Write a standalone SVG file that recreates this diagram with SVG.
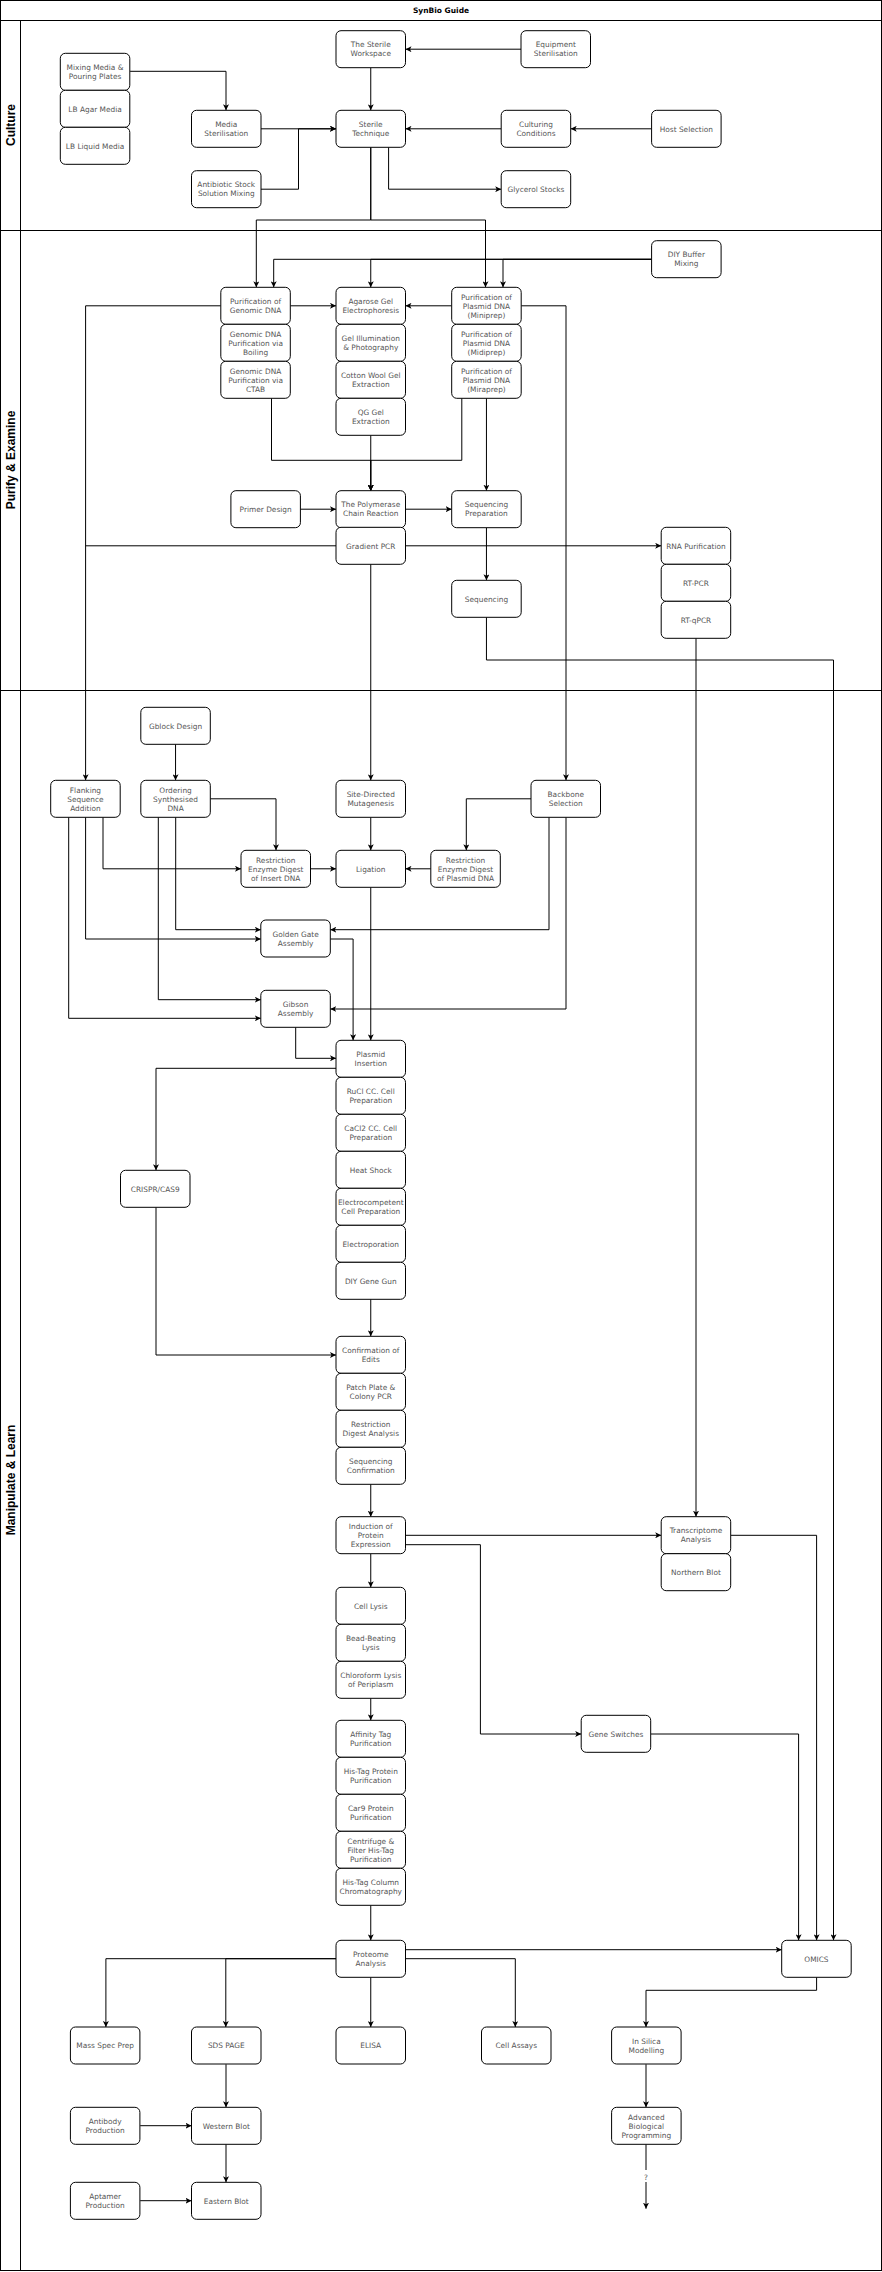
<svg xmlns="http://www.w3.org/2000/svg" width="882" height="2272" viewBox="0 0 882 2272">
<style>
.n rect{fill:#fff;stroke:#000;stroke-width:1}
.n text{font-family:"DejaVu Sans",Verdana,sans-serif;font-size:7.4px;fill:#555;text-anchor:middle}
.c path{fill:none;stroke:#000;stroke-width:1;marker-end:url(#arr)}
.lane{font-family:"Liberation Sans",Arial,sans-serif;font-size:12px;font-weight:bold;fill:#000;text-anchor:middle}
.frame{fill:none;stroke:#000;stroke-width:1}
.lbl{font-family:"DejaVu Sans",Verdana,sans-serif;font-size:7.4px;fill:#555;text-anchor:middle}
</style>
<defs>
<marker id="arr" markerUnits="userSpaceOnUse" markerWidth="7" markerHeight="6" refX="6" refY="3" orient="auto"><path d="M0,0 L6,3 L0,6 L1.5,3 Z" fill="#000"/></marker>
</defs>
<rect x="0" y="0" width="882" height="2272" fill="#fff"/>
<g id="pool">
<rect class="frame" x="0.5" y="0.5" width="881" height="2270"/>
<line class="frame" x1="0" y1="20.5" x2="882" y2="20.5"/>
<line class="frame" x1="20.5" y1="20.5" x2="20.5" y2="2271"/>
<line class="frame" x1="0" y1="230.5" x2="882" y2="230.5"/>
<line class="frame" x1="0" y1="690.5" x2="882" y2="690.5"/>
<text x="441" y="13" style="font-family:'DejaVu Sans',sans-serif;font-size:7.5px;font-weight:bold;text-anchor:middle">SynBio Guide</text>
<text class="lane" transform="translate(15,125) rotate(-90)">Culture</text>
<text class="lane" transform="translate(15,460) rotate(-90)">Purify &amp; Examine</text>
<text class="lane" transform="translate(15,1480) rotate(-90)">Manipulate &amp; Learn</text>
</g>
<g id="connectors" class="c">
<path d="M521,49.2 H405.5"/>
<path d="M370.75,67.7 V110.3"/>
<path d="M130.1,71.3 H226 V110.3"/>
<path d="M261,128.8 H336"/>
<path d="M261,189.2 H298.5 V128.8 H336"/>
<path d="M501.2,128.8 H405.5"/>
<path d="M651.6,128.8 H570.7"/>
<path d="M388.6,147.3 V189.2 H501.2"/>
<path d="M370.75,147.3 V220 H256.3 V287.3"/>
<path d="M370.75,147.3 V220 H485.5 V287.3"/>
<path d="M651.6,259.3 H273.7 V287.3"/>
<path d="M651.6,259.3 H370.75 V287.3"/>
<path d="M651.6,259.3 H503 V287.3"/>
<path d="M290.3,305.8 H336"/>
<path d="M451.7,305.8 H405.5"/>
<path d="M220.8,305.8 H85.6 V780.3"/>
<path d="M521.2,305.8 H566 V780.3"/>
<path d="M271.5,398.3 V460.3 H370.75 V490.7"/>
<path d="M461.8,398.3 V460.3 H370.75 V490.7"/>
<path d="M370.75,435.3 V490.7"/>
<path d="M486.45,398.3 V490.7"/>
<path d="M300.4,509.2 H336"/>
<path d="M405.5,509.2 H451.7"/>
<path d="M486.45,527.7 V580.3"/>
<path d="M85.6,545.8 H661.2"/>
<path d="M370.75,564.3 V780.3"/>
<path d="M486.45,617.3 V660 H833.5 V1940.3"/>
<path d="M696,638.3 V1516.7"/>
<path d="M175.55,744.3 V780.3"/>
<path d="M210.3,798.8 H276 V850.3"/>
<path d="M531,798.8 H466.3 V850.3"/>
<path d="M370.75,817.3 V850.3"/>
<path d="M310.5,868.8 H336"/>
<path d="M430.8,868.8 H405.5"/>
<path d="M103,817.3 V868.8 H241"/>
<path d="M175.7,817.3 V929.7 H260.8"/>
<path d="M549,817.3 V929.7 H330.3"/>
<path d="M85.6,817.3 V939 H260.8"/>
<path d="M68.7,817.3 V1018.3 H260.8"/>
<path d="M158.3,817.3 V999.7 H260.8"/>
<path d="M566,817.3 V1009 H330.3"/>
<path d="M370.75,887.3 V1040.3"/>
<path d="M330.3,939 H353.1 V1040.3"/>
<path d="M295.7,1027.3 V1058.3 H336"/>
<path d="M336,1068.3 H156 V1170.3"/>
<path d="M156,1207.3 V1355 H336"/>
<path d="M370.75,1299.3 V1336.3"/>
<path d="M370.75,1484.3 V1516.7"/>
<path d="M405.5,1535.3 H661.2"/>
<path d="M405.5,1544.7 H480.4 V1734 H581.2"/>
<path d="M370.75,1554 V1587.3"/>
<path d="M370.75,1698.3 V1720.3"/>
<path d="M731,1535.3 H816.6 V1940.3"/>
<path d="M651,1734 H798.6 V1940.3"/>
<path d="M370.75,1905.3 V1940.3"/>
<path d="M405.5,1949.7 H781.7"/>
<path d="M336,1958.7 H105.9 V2027"/>
<path d="M336,1958.7 H225.8 V2027"/>
<path d="M370.75,1977.3 V2027"/>
<path d="M405.5,1958.7 H515.3 V2027"/>
<path d="M816.6,1977.3 V1990.3 H646 V2027"/>
<path d="M646,2064.3 V2107.3"/>
<path d="M226,2064.3 V2107.3"/>
<path d="M226,2144.3 V2182.3"/>
<path d="M140.2,2125.7 H191.5"/>
<path d="M140.2,2200.7 H191.5"/>
<path d="M646,2144.3 V2208.7"/>
</g>
<g id="edge-label">
<rect x="641.5" y="2170" width="9" height="12" fill="#fff"/>
<text class="lbl" x="646" y="2179.5">?</text>
</g>
<g id="n1" class="n"><rect x="336" y="30.7" width="69.5" height="37" rx="5"/><text x="370.75" y="47.4">The Sterile<tspan x="370.75" dy="9">Workspace</tspan></text></g>
<g id="n2" class="n"><rect x="521" y="30.7" width="69.5" height="37" rx="5"/><text x="555.75" y="47.4">Equipment<tspan x="555.75" dy="9">Sterilisation</tspan></text></g>
<g id="n3" class="n"><rect x="60.3" y="53.3" width="69.5" height="37" rx="5"/><text x="95.05" y="70">Mixing Media &amp;<tspan x="95.05" dy="9">Pouring Plates</tspan></text></g>
<g id="n4" class="n"><rect x="60.3" y="90.3" width="69.5" height="37" rx="5"/><text x="95.05" y="111.5">LB Agar Media</text></g>
<g id="n5" class="n"><rect x="60.3" y="127.3" width="69.5" height="37" rx="5"/><text x="95.05" y="148.5">LB Liquid Media</text></g>
<g id="n6" class="n"><rect x="191.5" y="110.3" width="69.5" height="37" rx="5"/><text x="226.25" y="127">Media<tspan x="226.25" dy="9">Sterilisation</tspan></text></g>
<g id="n7" class="n"><rect x="336" y="110.3" width="69.5" height="37" rx="5"/><text x="370.75" y="127">Sterile<tspan x="370.75" dy="9">Technique</tspan></text></g>
<g id="n8" class="n"><rect x="501.2" y="110.3" width="69.5" height="37" rx="5"/><text x="535.95" y="127">Culturing<tspan x="535.95" dy="9">Conditions</tspan></text></g>
<g id="n9" class="n"><rect x="651.6" y="110.3" width="69.5" height="37" rx="5"/><text x="686.35" y="131.5">Host Selection</text></g>
<g id="n10" class="n"><rect x="191.5" y="170.7" width="69.5" height="37" rx="5"/><text x="226.25" y="187.4">Antibiotic Stock<tspan x="226.25" dy="9">Solution Mixing</tspan></text></g>
<g id="n11" class="n"><rect x="501.2" y="170.7" width="69.5" height="37" rx="5"/><text x="535.95" y="191.9">Glycerol Stocks</text></g>
<g id="n12" class="n"><rect x="651.6" y="240.7" width="69.5" height="37" rx="5"/><text x="686.35" y="257.4">DIY Buffer<tspan x="686.35" dy="9">Mixing</tspan></text></g>
<g id="n13" class="n"><rect x="220.8" y="287.3" width="69.5" height="37" rx="5"/><text x="255.55" y="304">Purification of<tspan x="255.55" dy="9">Genomic DNA</tspan></text></g>
<g id="n14" class="n"><rect x="220.8" y="324.3" width="69.5" height="37" rx="5"/><text x="255.55" y="336.5">Genomic DNA<tspan x="255.55" dy="9">Purification via</tspan><tspan x="255.55" dy="9">Boiling</tspan></text></g>
<g id="n15" class="n"><rect x="220.8" y="361.3" width="69.5" height="37" rx="5"/><text x="255.55" y="373.5">Genomic DNA<tspan x="255.55" dy="9">Purification via</tspan><tspan x="255.55" dy="9">CTAB</tspan></text></g>
<g id="n16" class="n"><rect x="336" y="287.3" width="69.5" height="37" rx="5"/><text x="370.75" y="304">Agarose Gel<tspan x="370.75" dy="9">Electrophoresis</tspan></text></g>
<g id="n17" class="n"><rect x="336" y="324.3" width="69.5" height="37" rx="5"/><text x="370.75" y="341">Gel Illumination<tspan x="370.75" dy="9">&amp; Photography</tspan></text></g>
<g id="n18" class="n"><rect x="336" y="361.3" width="69.5" height="37" rx="5"/><text x="370.75" y="378">Cotton Wool Gel<tspan x="370.75" dy="9">Extraction</tspan></text></g>
<g id="n19" class="n"><rect x="336" y="398.3" width="69.5" height="37" rx="5"/><text x="370.75" y="415">QG Gel<tspan x="370.75" dy="9">Extraction</tspan></text></g>
<g id="n20" class="n"><rect x="451.7" y="287.3" width="69.5" height="37" rx="5"/><text x="486.45" y="299.5">Purification of<tspan x="486.45" dy="9">Plasmid DNA</tspan><tspan x="486.45" dy="9">(Miniprep)</tspan></text></g>
<g id="n21" class="n"><rect x="451.7" y="324.3" width="69.5" height="37" rx="5"/><text x="486.45" y="336.5">Purification of<tspan x="486.45" dy="9">Plasmid DNA</tspan><tspan x="486.45" dy="9">(Midiprep)</tspan></text></g>
<g id="n22" class="n"><rect x="451.7" y="361.3" width="69.5" height="37" rx="5"/><text x="486.45" y="373.5">Purification of<tspan x="486.45" dy="9">Plasmid DNA</tspan><tspan x="486.45" dy="9">(Miraprep)</tspan></text></g>
<g id="n23" class="n"><rect x="230.9" y="490.7" width="69.5" height="37" rx="5"/><text x="265.65" y="511.9">Primer Design</text></g>
<g id="n24" class="n"><rect x="336" y="490.7" width="69.5" height="37" rx="5"/><text x="370.75" y="507.4">The Polymerase<tspan x="370.75" dy="9">Chain Reaction</tspan></text></g>
<g id="n25" class="n"><rect x="336" y="527.3" width="69.5" height="37" rx="5"/><text x="370.75" y="548.5">Gradient PCR</text></g>
<g id="n26" class="n"><rect x="451.7" y="490.7" width="69.5" height="37" rx="5"/><text x="486.45" y="507.4">Sequencing<tspan x="486.45" dy="9">Preparation</tspan></text></g>
<g id="n27" class="n"><rect x="451.7" y="580.3" width="69.5" height="37" rx="5"/><text x="486.45" y="601.5">Sequencing</text></g>
<g id="n28" class="n"><rect x="661.2" y="527.3" width="69.5" height="37" rx="5"/><text x="695.95" y="548.5">RNA Purification</text></g>
<g id="n29" class="n"><rect x="661.2" y="564.3" width="69.5" height="37" rx="5"/><text x="695.95" y="585.5">RT-PCR</text></g>
<g id="n30" class="n"><rect x="661.2" y="601.3" width="69.5" height="37" rx="5"/><text x="695.95" y="622.5">RT-qPCR</text></g>
<g id="n31" class="n"><rect x="140.8" y="707.3" width="69.5" height="37" rx="5"/><text x="175.55" y="728.5">Gblock Design</text></g>
<g id="n32" class="n"><rect x="50.7" y="780.3" width="69.5" height="37" rx="5"/><text x="85.45" y="792.5">Flanking<tspan x="85.45" dy="9">Sequence</tspan><tspan x="85.45" dy="9">Addition</tspan></text></g>
<g id="n33" class="n"><rect x="140.8" y="780.3" width="69.5" height="37" rx="5"/><text x="175.55" y="792.5">Ordering<tspan x="175.55" dy="9">Synthesised</tspan><tspan x="175.55" dy="9">DNA</tspan></text></g>
<g id="n34" class="n"><rect x="336" y="780.3" width="69.5" height="37" rx="5"/><text x="370.75" y="797">Site-Directed<tspan x="370.75" dy="9">Mutagenesis</tspan></text></g>
<g id="n35" class="n"><rect x="531" y="780.3" width="69.5" height="37" rx="5"/><text x="565.75" y="797">Backbone<tspan x="565.75" dy="9">Selection</tspan></text></g>
<g id="n36" class="n"><rect x="241" y="850.3" width="69.5" height="37" rx="5"/><text x="275.75" y="862.5">Restriction<tspan x="275.75" dy="9">Enzyme Digest</tspan><tspan x="275.75" dy="9">of Insert DNA</tspan></text></g>
<g id="n37" class="n"><rect x="336" y="850.3" width="69.5" height="37" rx="5"/><text x="370.75" y="871.5">Ligation</text></g>
<g id="n38" class="n"><rect x="430.8" y="850.3" width="69.5" height="37" rx="5"/><text x="465.55" y="862.5">Restriction<tspan x="465.55" dy="9">Enzyme Digest</tspan><tspan x="465.55" dy="9">of Plasmid DNA</tspan></text></g>
<g id="n39" class="n"><rect x="260.8" y="920" width="69.5" height="37" rx="5"/><text x="295.55" y="936.7">Golden Gate<tspan x="295.55" dy="9">Assembly</tspan></text></g>
<g id="n40" class="n"><rect x="260.8" y="990.3" width="69.5" height="37" rx="5"/><text x="295.55" y="1007">Gibson<tspan x="295.55" dy="9">Assembly</tspan></text></g>
<g id="n41" class="n"><rect x="336" y="1040.3" width="69.5" height="37" rx="5"/><text x="370.75" y="1057">Plasmid<tspan x="370.75" dy="9">Insertion</tspan></text></g>
<g id="n42" class="n"><rect x="336" y="1077.3" width="69.5" height="37" rx="5"/><text x="370.75" y="1094">RuCl CC. Cell<tspan x="370.75" dy="9">Preparation</tspan></text></g>
<g id="n43" class="n"><rect x="336" y="1114.3" width="69.5" height="37" rx="5"/><text x="370.75" y="1131">CaCl2 CC. Cell<tspan x="370.75" dy="9">Preparation</tspan></text></g>
<g id="n44" class="n"><rect x="336" y="1151.3" width="69.5" height="37" rx="5"/><text x="370.75" y="1172.5">Heat Shock</text></g>
<g id="n45" class="n"><rect x="336" y="1188.3" width="69.5" height="37" rx="5"/><text x="370.75" y="1205">Electrocompetent<tspan x="370.75" dy="9">Cell Preparation</tspan></text></g>
<g id="n46" class="n"><rect x="336" y="1225.3" width="69.5" height="37" rx="5"/><text x="370.75" y="1246.5">Electroporation</text></g>
<g id="n47" class="n"><rect x="336" y="1262.3" width="69.5" height="37" rx="5"/><text x="370.75" y="1283.5">DIY Gene Gun</text></g>
<g id="n48" class="n"><rect x="120.5" y="1170.3" width="69.5" height="37" rx="5"/><text x="155.25" y="1191.5">CRISPR/CAS9</text></g>
<g id="n49" class="n"><rect x="336" y="1336.3" width="69.5" height="37" rx="5"/><text x="370.75" y="1353">Confirmation of<tspan x="370.75" dy="9">Edits</tspan></text></g>
<g id="n50" class="n"><rect x="336" y="1373.3" width="69.5" height="37" rx="5"/><text x="370.75" y="1390">Patch Plate &amp;<tspan x="370.75" dy="9">Colony PCR</tspan></text></g>
<g id="n51" class="n"><rect x="336" y="1410.3" width="69.5" height="37" rx="5"/><text x="370.75" y="1427">Restriction<tspan x="370.75" dy="9">Digest Analysis</tspan></text></g>
<g id="n52" class="n"><rect x="336" y="1447.3" width="69.5" height="37" rx="5"/><text x="370.75" y="1464">Sequencing<tspan x="370.75" dy="9">Confirmation</tspan></text></g>
<g id="n53" class="n"><rect x="336" y="1516.7" width="69.5" height="37" rx="5"/><text x="370.75" y="1528.9">Induction of<tspan x="370.75" dy="9">Protein</tspan><tspan x="370.75" dy="9">Expression</tspan></text></g>
<g id="n54" class="n"><rect x="661.2" y="1516.7" width="69.5" height="37" rx="5"/><text x="695.95" y="1533.4">Transcriptome<tspan x="695.95" dy="9">Analysis</tspan></text></g>
<g id="n55" class="n"><rect x="661.2" y="1553.7" width="69.5" height="37" rx="5"/><text x="695.95" y="1574.9">Northern Blot</text></g>
<g id="n56" class="n"><rect x="336" y="1587.3" width="69.5" height="37" rx="5"/><text x="370.75" y="1608.5">Cell Lysis</text></g>
<g id="n57" class="n"><rect x="336" y="1624.3" width="69.5" height="37" rx="5"/><text x="370.75" y="1641">Bead-Beating<tspan x="370.75" dy="9">Lysis</tspan></text></g>
<g id="n58" class="n"><rect x="336" y="1661.3" width="69.5" height="37" rx="5"/><text x="370.75" y="1678">Chloroform Lysis<tspan x="370.75" dy="9">of Periplasm</tspan></text></g>
<g id="n59" class="n"><rect x="336" y="1720.3" width="69.5" height="37" rx="5"/><text x="370.75" y="1737">Affinity Tag<tspan x="370.75" dy="9">Purification</tspan></text></g>
<g id="n60" class="n"><rect x="336" y="1757.3" width="69.5" height="37" rx="5"/><text x="370.75" y="1774">His-Tag Protein<tspan x="370.75" dy="9">Purification</tspan></text></g>
<g id="n61" class="n"><rect x="336" y="1794.3" width="69.5" height="37" rx="5"/><text x="370.75" y="1811">Car9 Protein<tspan x="370.75" dy="9">Purification</tspan></text></g>
<g id="n62" class="n"><rect x="336" y="1831.3" width="69.5" height="37" rx="5"/><text x="370.75" y="1843.5">Centrifuge &amp;<tspan x="370.75" dy="9">Filter His-Tag</tspan><tspan x="370.75" dy="9">Purification</tspan></text></g>
<g id="n63" class="n"><rect x="336" y="1868.3" width="69.5" height="37" rx="5"/><text x="370.75" y="1885">His-Tag Column<tspan x="370.75" dy="9">Chromatography</tspan></text></g>
<g id="n64" class="n"><rect x="581.2" y="1715.3" width="69.5" height="37" rx="5"/><text x="615.95" y="1736.5">Gene Switches</text></g>
<g id="n65" class="n"><rect x="336" y="1940.3" width="69.5" height="37" rx="5"/><text x="370.75" y="1957">Proteome<tspan x="370.75" dy="9">Analysis</tspan></text></g>
<g id="n66" class="n"><rect x="781.7" y="1940.3" width="69.5" height="37" rx="5"/><text x="816.45" y="1961.5">OMICS</text></g>
<g id="n67" class="n"><rect x="70.4" y="2027" width="69.5" height="37" rx="5"/><text x="105.15" y="2048.2">Mass Spec Prep</text></g>
<g id="n68" class="n"><rect x="191.5" y="2027" width="69.5" height="37" rx="5"/><text x="226.25" y="2048.2">SDS PAGE</text></g>
<g id="n69" class="n"><rect x="336" y="2027" width="69.5" height="37" rx="5"/><text x="370.75" y="2048.2">ELISA</text></g>
<g id="n70" class="n"><rect x="481.5" y="2027" width="69.5" height="37" rx="5"/><text x="516.25" y="2048.2">Cell Assays</text></g>
<g id="n71" class="n"><rect x="611.6" y="2027" width="69.5" height="37" rx="5"/><text x="646.35" y="2043.7">In Silica<tspan x="646.35" dy="9">Modelling</tspan></text></g>
<g id="n72" class="n"><rect x="70.4" y="2107.3" width="69.5" height="37" rx="5"/><text x="105.15" y="2124">Antibody<tspan x="105.15" dy="9">Production</tspan></text></g>
<g id="n73" class="n"><rect x="191.5" y="2107.3" width="69.5" height="37" rx="5"/><text x="226.25" y="2128.5">Western Blot</text></g>
<g id="n74" class="n"><rect x="611.6" y="2107.3" width="69.5" height="37" rx="5"/><text x="646.35" y="2119.5">Advanced<tspan x="646.35" dy="9">Biological</tspan><tspan x="646.35" dy="9">Programming</tspan></text></g>
<g id="n75" class="n"><rect x="70.4" y="2182.3" width="69.5" height="37" rx="5"/><text x="105.15" y="2199">Aptamer<tspan x="105.15" dy="9">Production</tspan></text></g>
<g id="n76" class="n"><rect x="191.5" y="2182.3" width="69.5" height="37" rx="5"/><text x="226.25" y="2203.5">Eastern Blot</text></g>
</svg>
